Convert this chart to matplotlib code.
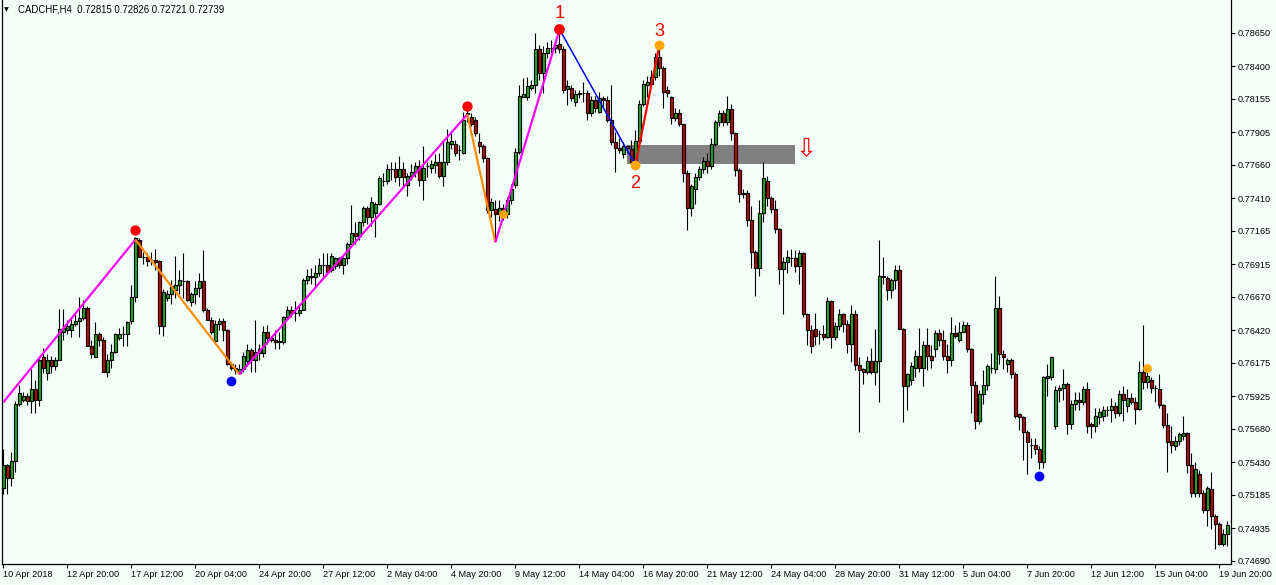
import matplotlib
matplotlib.use("Agg")
import matplotlib.pyplot as plt
from matplotlib.patches import Rectangle

# CADCHF H4, prices in 1e-4 units (pips)
opens = [
    7524, 7541, 7531, 7544, 7587, 7590, 7593, 7589, 7598, 7590, 7622, 7610, 7620, 7615, 7620, 7641,
    7642, 7642, 7647, 7649, 7651, 7659, 7630, 7622, 7639, 7635, 7611, 7620, 7626, 7636, 7639, 7639,
    7649, 7667, 7710, 7697, 7697, 7695, 7695, 7694, 7645, 7666, 7669, 7672, 7676, 7679, 7679, 7663,
    7669, 7674, 7679, 7657, 7650, 7634, 7647, 7649, 7642, 7617, 7612, 7610, 7613, 7619, 7627, 7620,
    7625, 7625, 7641, 7636, 7635, 7633, 7633, 7652, 7657, 7655, 7655, 7657, 7680, 7683, 7682, 7685,
    7691, 7691, 7687, 7690, 7696, 7691, 7696, 7707, 7715, 7713, 7723, 7734, 7727, 7730, 7737, 7754,
    7754, 7763, 7763, 7757, 7763, 7751, 7758, 7761, 7765, 7755, 7765, 7764, 7766, 7768, 7758, 7768,
    7782, 7782, 7777, 7775, 7805, 7802, 7800, 7783, 7780, 7771, 7732, 7733, 7729, 7734, 7729, 7740,
    7751, 7776, 7817, 7817, 7824, 7826, 7853, 7835, 7850, 7854, 7854, 7857, 7853, 7823, 7824, 7813,
    7819, 7820, 7820, 7805, 7815, 7806, 7816, 7815, 7800, 7783, 7779, 7774, 7780, 7778, 7767, 7784,
    7812, 7826, 7827, 7832, 7847, 7839, 7822, 7817, 7801, 7805, 7797, 7760, 7734, 7748, 7757, 7763,
    7769, 7765, 7782, 7798, 7805, 7798, 7808, 7790, 7762, 7744, 7745, 7725, 7701, 7689, 7730, 7754,
    7741, 7733, 7718, 7688, 7693, 7696, 7696, 7690, 7700, 7654, 7642, 7643, 7639, 7639, 7637, 7664,
    7637, 7645, 7654, 7647, 7632, 7654, 7616, 7613, 7611, 7619, 7611, 7619, 7683, 7681, 7672, 7680,
    7687, 7643, 7600, 7605, 7614, 7623, 7614, 7631, 7623, 7628, 7640, 7635, 7623, 7620, 7640, 7635,
    7641, 7646, 7628, 7601, 7574, 7594, 7601, 7614, 7613, 7659, 7624, 7617, 7620, 7609, 7579, 7577,
    7566, 7556, 7556, 7553, 7543, 7606, 7607, 7570, 7597, 7599, 7602, 7572, 7587, 7590, 7588, 7598,
    7572, 7570, 7577, 7578, 7582, 7582, 7585, 7580, 7594, 7585, 7591, 7588, 7583, 7611, 7603, 7605,
    7599, 7598, 7586, 7571, 7559, 7555, 7559, 7563, 7565, 7541, 7520, 7534, 7520, 7507, 7523, 7503,
    7497, 7482, 7489,
]
highs = [
    7553, 7542, 7551, 7589, 7601, 7596, 7595, 7613, 7605, 7622, 7629, 7624, 7623, 7622, 7658, 7658,
    7650, 7652, 7655, 7667, 7665, 7660, 7635, 7648, 7641, 7637, 7624, 7632, 7640, 7644, 7645, 7649,
    7676, 7712, 7711, 7701, 7700, 7701, 7703, 7695, 7673, 7672, 7680, 7698, 7687, 7700, 7680, 7671,
    7679, 7685, 7702, 7659, 7652, 7650, 7651, 7651, 7643, 7618, 7617, 7617, 7626, 7632, 7629, 7650,
    7632, 7645, 7646, 7638, 7642, 7641, 7653, 7660, 7660, 7664, 7660, 7681, 7688, 7689, 7691, 7696,
    7700, 7700, 7700, 7697, 7697, 7697, 7708, 7736, 7723, 7724, 7735, 7735, 7742, 7738, 7758, 7760,
    7767, 7768, 7768, 7773, 7768, 7760, 7767, 7768, 7770, 7780, 7768, 7770, 7774, 7775, 7784, 7793,
    7790, 7785, 7781, 7806, 7808, 7805, 7802, 7790, 7782, 7772, 7741, 7740, 7740, 7737, 7742, 7752,
    7779, 7826, 7831, 7832, 7830, 7865, 7856, 7855, 7858, 7860, 7860, 7867, 7855, 7830, 7826, 7822,
    7822, 7828, 7822, 7818, 7818, 7821, 7818, 7818, 7826, 7791, 7786, 7783, 7781, 7785, 7792, 7815,
    7830, 7833, 7837, 7850, 7855, 7840, 7825, 7818, 7809, 7808, 7797, 7762, 7752, 7760, 7765, 7772,
    7775, 7786, 7800, 7807, 7807, 7818, 7812, 7791, 7764, 7748, 7747, 7735, 7702, 7740, 7768, 7758,
    7743, 7740, 7719, 7697, 7702, 7703, 7702, 7702, 7701, 7655, 7646, 7655, 7642, 7646, 7667, 7665,
    7648, 7658, 7655, 7650, 7661, 7657, 7622, 7614, 7623, 7629, 7643, 7710, 7697, 7683, 7681, 7691,
    7691, 7644, 7610, 7618, 7627, 7644, 7634, 7644, 7631, 7642, 7643, 7642, 7632, 7652, 7646, 7648,
    7649, 7648, 7629, 7604, 7597, 7612, 7617, 7625, 7683, 7668, 7627, 7621, 7621, 7611, 7580, 7578,
    7567, 7561, 7561, 7555, 7608, 7617, 7623, 7600, 7601, 7613, 7603, 7590, 7596, 7596, 7600, 7603,
    7573, 7584, 7584, 7585, 7585, 7591, 7588, 7597, 7600, 7598, 7595, 7592, 7619, 7646, 7611, 7607,
    7601, 7609, 7587, 7580, 7570, 7563, 7566, 7578, 7566, 7550, 7543, 7537, 7522, 7525, 7536, 7504,
    7498, 7493, 7499,
]
lows = [
    7519, 7519, 7525, 7536, 7585, 7588, 7586, 7580, 7580, 7585, 7610, 7605, 7610, 7612, 7620, 7635,
    7639, 7637, 7645, 7637, 7650, 7630, 7621, 7622, 7630, 7611, 7607, 7614, 7625, 7635, 7630, 7630,
    7647, 7663, 7697, 7692, 7690, 7691, 7687, 7639, 7638, 7664, 7662, 7666, 7669, 7666, 7664, 7660,
    7662, 7667, 7656, 7650, 7639, 7633, 7642, 7634, 7616, 7612, 7609, 7609, 7611, 7615, 7611, 7611,
    7620, 7622, 7632, 7633, 7628, 7628, 7632, 7650, 7652, 7649, 7653, 7657, 7677, 7677, 7675, 7683,
    7681, 7684, 7686, 7688, 7689, 7684, 7692, 7706, 7707, 7710, 7720, 7722, 7720, 7712, 7736, 7750,
    7752, 7755, 7753, 7750, 7750, 7743, 7755, 7757, 7750, 7740, 7757, 7760, 7760, 7756, 7750, 7766,
    7778, 7773, 7770, 7774, 7798, 7795, 7788, 7775, 7768, 7730, 7727, 7710, 7724, 7725, 7726, 7737,
    7749, 7774, 7817, 7815, 7822, 7820, 7830, 7820, 7846, 7850, 7850, 7850, 7820, 7811, 7814, 7810,
    7816, 7813, 7800, 7803, 7806, 7805, 7810, 7798, 7781, 7761, 7775, 7771, 7775, 7768, 7766, 7783,
    7810, 7817, 7826, 7830, 7833, 7809, 7817, 7797, 7799, 7795, 7753, 7717, 7728, 7737, 7755, 7760,
    7760, 7763, 7780, 7795, 7795, 7796, 7785, 7758, 7738, 7741, 7720, 7689, 7668, 7683, 7723, 7735,
    7730, 7715, 7677, 7654, 7685, 7690, 7686, 7677, 7652, 7631, 7625, 7631, 7632, 7635, 7636, 7629,
    7635, 7642, 7641, 7625, 7618, 7612, 7566, 7602, 7609, 7609, 7601, 7588, 7677, 7665, 7666, 7673,
    7643, 7573, 7582, 7601, 7607, 7611, 7600, 7612, 7614, 7622, 7630, 7620, 7610, 7615, 7636, 7633,
    7641, 7626, 7580, 7568, 7572, 7587, 7597, 7610, 7610, 7617, 7613, 7611, 7606, 7576, 7567, 7545,
    7534, 7546, 7549, 7538, 7539, 7593, 7605, 7568, 7588, 7590, 7564, 7568, 7582, 7582, 7586, 7565,
    7561, 7566, 7572, 7574, 7578, 7573, 7576, 7578, 7574, 7581, 7587, 7572, 7582, 7598, 7599, 7595,
    7588, 7584, 7569, 7536, 7550, 7552, 7556, 7560, 7535, 7517, 7517, 7517, 7505, 7495, 7493, 7478,
    7481, 7480, 7480,
]
closes = [
    7541, 7531, 7544, 7587, 7595, 7593, 7589, 7598, 7590, 7620, 7614, 7620, 7615, 7620, 7643, 7644,
    7645, 7647, 7649, 7651, 7659, 7630, 7624, 7639, 7635, 7611, 7620, 7626, 7639, 7639, 7639, 7648,
    7667, 7711, 7697, 7697, 7694, 7695, 7693, 7645, 7671, 7669, 7675, 7676, 7680, 7679, 7665, 7669,
    7674, 7679, 7657, 7650, 7641, 7647, 7649, 7642, 7617, 7614, 7614, 7613, 7623, 7627, 7620, 7626,
    7628, 7641, 7636, 7635, 7633, 7634, 7652, 7657, 7655, 7655, 7657, 7680, 7683, 7682, 7685, 7691,
    7691, 7686, 7698, 7696, 7691, 7696, 7707, 7715, 7713, 7723, 7734, 7727, 7738, 7737, 7756, 7754,
    7763, 7763, 7757, 7763, 7757, 7758, 7761, 7765, 7755, 7764, 7765, 7767, 7768, 7758, 7768, 7783,
    7784, 7775, 7777, 7800, 7804, 7797, 7790, 7780, 7771, 7732, 7738, 7729, 7734, 7729, 7740, 7748,
    7776, 7818, 7819, 7825, 7826, 7853, 7835, 7850, 7854, 7854, 7856, 7853, 7822, 7825, 7816, 7819,
    7820, 7820, 7805, 7815, 7809, 7816, 7815, 7800, 7783, 7779, 7777, 7780, 7779, 7768, 7784, 7812,
    7827, 7828, 7832, 7847, 7839, 7821, 7820, 7801, 7805, 7797, 7760, 7734, 7750, 7757, 7763, 7769,
    7765, 7782, 7798, 7805, 7798, 7808, 7790, 7762, 7744, 7745, 7725, 7701, 7689, 7730, 7756, 7741,
    7733, 7718, 7688, 7693, 7697, 7696, 7690, 7700, 7654, 7642, 7630, 7638, 7639, 7637, 7664, 7637,
    7645, 7654, 7647, 7632, 7654, 7616, 7612, 7611, 7619, 7611, 7619, 7683, 7682, 7672, 7680, 7687,
    7643, 7600, 7609, 7615, 7623, 7614, 7631, 7623, 7620, 7640, 7635, 7623, 7620, 7640, 7638, 7641,
    7646, 7628, 7601, 7574, 7594, 7601, 7615, 7614, 7659, 7624, 7622, 7620, 7609, 7578, 7577, 7566,
    7558, 7556, 7553, 7543, 7607, 7608, 7622, 7597, 7599, 7602, 7572, 7587, 7590, 7588, 7598, 7570,
    7570, 7578, 7581, 7582, 7582, 7585, 7580, 7594, 7590, 7591, 7588, 7583, 7611, 7603, 7608, 7599,
    7599, 7586, 7571, 7558, 7556, 7559, 7564, 7565, 7541, 7520, 7538, 7520, 7507, 7524, 7503, 7497,
    7482, 7489, 7496,
]

date_labels = ["10 Apr 2018", "12 Apr 20:00", "17 Apr 12:00", "20 Apr 04:00", "24 Apr 20:00",
               "27 Apr 12:00", "2 May 04:00", "4 May 20:00", "9 May 12:00", "14 May 04:00",
               "16 May 20:00", "21 May 12:00", "24 May 04:00", "28 May 20:00", "31 May 12:00",
               "5 Jun 04:00", "7 Jun 20:00", "12 Jun 12:00", "15 Jun 04:00", "19 Jun 20:00"]
price_ticks = [0.78650, 0.78400, 0.78155, 0.77905, 0.77660, 0.77410, 0.77165, 0.76915, 0.76670,
               0.76420, 0.76175, 0.75925, 0.75680, 0.75430, 0.75185, 0.74935, 0.74690]

# zigzag turning points (bar index, price in pips)
zz_bars = [0, 33, 59, 116, 123, 139]
zz_prices = [7588, 7710, 7609, 7804, 7708, 7867]
# 1-2-3 pattern
p123_bars = [139, 158, 164]
p123_prices = [7868, 7766, 7856]
# markers
red_dots_bars = [33, 116]
red_dots_prices = [7717, 7810]
blue_dots_bars = [57, 259]
blue_dots_prices = [7604, 7533]
orange_dots_bars = [125, 286]
orange_dots_prices = [7729, 7614]
# sell zone
zone_bars = [155.85, 197.9]
zone_prices = [7767, 7781]

bg = "#F5FFFA"
n = len(closes)
o = [v / 1e4 for v in opens]
h = [v / 1e4 for v in highs]
l = [v / 1e4 for v in lows]
c = [v / 1e4 for v in closes]

fig = plt.figure(figsize=(12.76, 5.85), dpi=100, facecolor=bg)
ax = fig.add_axes([2 / 1276, 21 / 585, 1229 / 1276, 564 / 585])
ax.set_facecolor(bg)

# zone (drawn behind candles)
ax.add_patch(Rectangle((zone_bars[0], zone_prices[0] / 1e4), zone_bars[1] - zone_bars[0],
                       (zone_prices[1] - zone_prices[0]) / 1e4, facecolor="#808080",
                       edgecolor="none", zorder=0.5))

x = list(range(n))
ax.vlines(x, l, h, color="black", lw=0.8, zorder=1)
cols = ["#20B020" if c[i] >= o[i] else "#C80000" for i in range(n)]
ax.bar(x, [c[i] - o[i] for i in range(n)], bottom=o, width=0.74, color=cols,
       edgecolor="black", linewidth=0.85, zorder=2)

# zigzag
seg_colors = ["#FF00FF", "#FF8C00", "#FF00FF", "#FF8C00", "#FF00FF"]
for k in range(len(zz_bars) - 1):
    ax.plot(zz_bars[k:k + 2], [zz_prices[k] / 1e4, zz_prices[k + 1] / 1e4],
            color=seg_colors[k], lw=1.6, zorder=3, solid_capstyle="butt")

ax.plot(p123_bars[:2], [p / 1e4 for p in p123_prices[:2]], color="#0000FF", lw=1.1, zorder=3)
ax.plot(p123_bars[1:], [p / 1e4 for p in p123_prices[1:]], color="#FF0000", lw=1.6, zorder=3)

ax.scatter(red_dots_bars, [p / 1e4 for p in red_dots_prices], s=55, color="#FF0000", zorder=4, lw=0)
ax.scatter(blue_dots_bars, [p / 1e4 for p in blue_dots_prices], s=50, color="#0000FF", zorder=4, lw=0)
ax.scatter(orange_dots_bars, [p / 1e4 for p in orange_dots_prices], s=40, color="#FFA500", zorder=4, lw=0)
ax.scatter(p123_bars[0], p123_prices[0] / 1e4, s=60, color="#FF0000", zorder=4, lw=0)
ax.scatter(p123_bars[1:], [p / 1e4 for p in p123_prices[1:]], s=50, color="#FFA500", zorder=4, lw=0)

lab_font = dict(color="#FF0000", fontsize=13, family="Liberation Sans", ha="center", va="center",
                zorder=5)
ax.annotate("1", (p123_bars[0], p123_prices[0] / 1e4), xytext=(0, 11), textcoords="offset points", **lab_font)
ax.annotate("2", (p123_bars[1], p123_prices[1] / 1e4), xytext=(0, -13), textcoords="offset points", **lab_font)
ax.annotate("3", (p123_bars[2], p123_prices[2] / 1e4), xytext=(0, 10), textcoords="offset points", **lab_font)

ax.annotate("\u21e9", (zone_bars[1], zone_prices[1] / 1e4), xytext=(8, -3), textcoords="offset points",
            color="#FF0000", fontsize=18, family="DejaVu Sans", ha="center", va="center", zorder=5)

ax.set_xlim(-0.33, 306.9)
ax.set_ylim(0.746675, 0.788975)

ax.set_xticks(range(0, 16 * len(date_labels), 16))
ax.set_xticklabels(date_labels, ha="left", fontsize=6.6, family="Liberation Sans")
ax.yaxis.tick_right()
ax.set_yticks(price_ticks)
ax.set_yticklabels([f"{p:.5f}" for p in price_ticks], fontsize=6.6, family="Liberation Sans")
ax.tick_params(axis="x", length=3, width=0.8, pad=1.5, direction="out")
ax.tick_params(axis="y", length=3, width=0.8, pad=2, direction="out")
ax.spines["top"].set_visible(False)
for s in ["left", "right", "bottom"]:
    ax.spines[s].set_linewidth(0.9)

fig.text(6 / 1276, 1 - 10 / 585, "\u25bc", fontsize=4.5, va="center", ha="center")
fig.text(18 / 1276, 1 - 10 / 585, "CADCHF,H4  0.72815 0.72826 0.72721 0.72739", fontsize=6.9,
         family="Liberation Sans", va="center", ha="left")

fig.savefig("out.png", dpi=100, facecolor=bg)
